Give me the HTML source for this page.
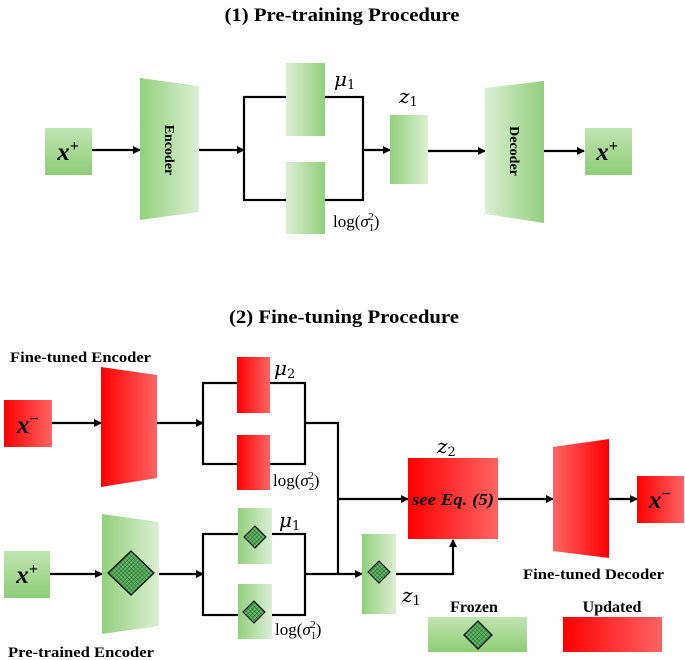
<!DOCTYPE html>
<html><head><meta charset="utf-8"><style>
html,body{margin:0;padding:0;background:#fff;}
svg{display:block;}
text{font-family:"Liberation Serif",serif;}
.m{font-family:"DejaVu Serif","Liberation Serif",serif;}
</style></head><body>
<svg width="685" height="660" viewBox="0 0 685 660" xmlns="http://www.w3.org/2000/svg">
<defs>
<linearGradient id="gD" x1="0" x2="1" y1="0" y2="0"><stop offset="0" stop-color="#92d07c"/><stop offset="1" stop-color="#dcefd4"/></linearGradient>
<linearGradient id="gL" x1="0" x2="1" y1="0" y2="0"><stop offset="0" stop-color="#dcefd4"/><stop offset="1" stop-color="#92d07c"/></linearGradient>
<linearGradient id="gV" x1="0" x2="0" y1="0" y2="1"><stop offset="0" stop-color="#c0e4b2"/><stop offset="1" stop-color="#8ecd76"/></linearGradient>
<linearGradient id="rD" x1="0" x2="1" y1="0" y2="0"><stop offset="0" stop-color="#ff0000"/><stop offset="1" stop-color="#ff6464"/></linearGradient>
<linearGradient id="rL" x1="0" x2="1" y1="0" y2="0"><stop offset="0" stop-color="#ff6464"/><stop offset="1" stop-color="#ff0000"/></linearGradient>
<pattern id="hat" width="3" height="3" patternUnits="userSpaceOnUse" patternTransform="rotate(45)">
<rect width="3" height="3" fill="#5fb864"/><path d="M0 0H3M0 0V3" stroke="#1d4a22" stroke-width="0.8"/></pattern>
<marker id="ar" markerWidth="8" markerHeight="8" refX="7" refY="4" orient="auto" markerUnits="userSpaceOnUse"><path d="M0,0 L8,4 L0,8 z" fill="#000"/></marker>
</defs>

<text x="342" y="21" font-size="19" font-weight="bold" text-anchor="middle" textLength="235" lengthAdjust="spacingAndGlyphs">(1) Pre-training Procedure</text>

<g stroke="#000" stroke-width="2.2" fill="none">
<line x1="92" y1="150" x2="140" y2="150" marker-end="url(#ar)"/>
<line x1="199" y1="150" x2="244" y2="150" marker-end="url(#ar)"/>
<rect x="244" y="97" width="119" height="103"/>
<line x1="363" y1="150" x2="390" y2="150" marker-end="url(#ar)"/>
<line x1="428" y1="151" x2="485" y2="151" marker-end="url(#ar)"/>
<line x1="544" y1="151" x2="584" y2="151" marker-end="url(#ar)"/>
</g>
<rect x="45" y="128" width="47" height="47" fill="url(#gV)"/>
<text x="68" y="160" font-size="25" font-style="italic" font-weight="bold" text-anchor="middle">x<tspan font-size="16" dy="-9">+</tspan></text>
<polygon points="140,78 199,86 199,212 140,220" fill="url(#gD)"/>
<text transform="translate(165,150) rotate(90)" font-size="14" font-weight="bold" text-anchor="middle">Encoder</text>
<rect x="286" y="63" width="39" height="73" fill="url(#gL)"/>
<rect x="286" y="162" width="39" height="72" fill="url(#gL)"/>
<text class="m" x="334" y="86" font-size="20" font-style="italic">μ<tspan font-size="13" font-style="normal" dy="3">1</tspan></text>
<text x="333" y="227" font-size="17">log(<tspan font-style="italic">σ</tspan><tspan font-size="11" dy="4">1</tspan><tspan font-size="11" dx="-6" dy="-11">2</tspan><tspan dy="7">)</tspan></text>
<rect x="390" y="115" width="38" height="69" fill="url(#gD)"/>
<text class="m" x="399" y="103" font-size="20" font-style="italic">z<tspan font-size="13" font-style="normal" dy="3">1</tspan></text>
<polygon points="485,88 544,81 544,223 485,214" fill="url(#gL)"/>
<text transform="translate(510,151) rotate(90)" font-size="14" font-weight="bold" text-anchor="middle">Decoder</text>
<rect x="585" y="128" width="47" height="47" fill="url(#gV)"/>
<text x="607" y="160" font-size="25" font-style="italic" font-weight="bold" text-anchor="middle">x<tspan font-size="16" dy="-9">+</tspan></text>

<text x="344" y="323" font-size="19" font-weight="bold" text-anchor="middle" textLength="230" lengthAdjust="spacingAndGlyphs">(2) Fine-tuning Procedure</text>

<g stroke="#000" stroke-width="2.2" fill="none">
<line x1="52" y1="423" x2="101" y2="423" marker-end="url(#ar)"/>
<line x1="157" y1="423" x2="203" y2="423" marker-end="url(#ar)"/>
<rect x="203" y="383" width="102" height="81"/>
<polyline points="305,423 338,423 338,574"/>
<line x1="338" y1="499" x2="408" y2="499" marker-end="url(#ar)"/>
<line x1="498" y1="499" x2="553" y2="499" marker-end="url(#ar)"/>
<line x1="609" y1="499" x2="637" y2="499" marker-end="url(#ar)"/>
<line x1="50" y1="574" x2="102" y2="574" marker-end="url(#ar)"/>
<line x1="159" y1="574" x2="203" y2="574" marker-end="url(#ar)"/>
<rect x="203" y="534" width="102" height="81"/>
<line x1="305" y1="574" x2="362" y2="574" marker-end="url(#ar)"/>
<polyline points="395,574 453,574 453,540" marker-end="url(#ar)"/>
</g>

<text x="10" y="362" font-size="15" font-weight="bold" textLength="141" lengthAdjust="spacingAndGlyphs">Fine-tuned Encoder</text>
<rect x="4" y="400" width="48" height="47" fill="url(#rD)"/>
<text x="28" y="433" font-size="25" font-style="italic" font-weight="bold" text-anchor="middle">x<tspan font-size="16" dy="-9">−</tspan></text>
<polygon points="101,367 157,375 157,478 101,487" fill="url(#rD)"/>
<rect x="237" y="357" width="33" height="56" fill="url(#rD)"/>
<rect x="237" y="435" width="33" height="55" fill="url(#rD)"/>
<text class="m" x="274" y="375" font-size="20" font-style="italic">μ<tspan font-size="13" font-style="normal" dy="3">2</tspan></text>
<text x="273" y="486" font-size="17">log(<tspan font-style="italic">σ</tspan><tspan font-size="11" dy="4">2</tspan><tspan font-size="11" dx="-6" dy="-11">2</tspan><tspan dy="7">)</tspan></text>
<rect x="408" y="458" width="90" height="81" fill="url(#rD)"/>
<text x="453" y="505" font-size="17" font-style="italic" font-weight="bold" text-anchor="middle" textLength="82" lengthAdjust="spacingAndGlyphs">see Eq. (5)</text>
<text class="m" x="437" y="453" font-size="20" font-style="italic">z<tspan font-size="13" font-style="normal" dy="3">2</tspan></text>
<polygon points="553,447 609,439 609,558 553,551" fill="url(#rL)"/>
<rect x="637" y="476" width="47" height="47" fill="url(#rD)"/>
<text x="660" y="508" font-size="25" font-style="italic" font-weight="bold" text-anchor="middle">x<tspan font-size="16" dy="-9">−</tspan></text>
<text x="523" y="579" font-size="15" font-weight="bold" textLength="141" lengthAdjust="spacingAndGlyphs">Fine-tuned Decoder</text>

<rect x="4" y="551" width="46" height="47" fill="url(#gV)"/>
<text x="27" y="583" font-size="25" font-style="italic" font-weight="bold" text-anchor="middle">x<tspan font-size="16" dy="-9">+</tspan></text>
<polygon points="102,514 159,522 159,626 102,634" fill="url(#gD)"/>
<polygon points="131,551 154,573 131,595 108,573" fill="url(#hat)" stroke="#000" stroke-width="1.2"/>
<rect x="238" y="508" width="34" height="56" fill="url(#gD)"/>
<polygon points="255,526 266,537 255,548 244,537" fill="url(#hat)" stroke="#000" stroke-width="1"/>
<rect x="238" y="584" width="34" height="55" fill="url(#gD)"/>
<polygon points="254,601 265,612 254,623 243,612" fill="url(#hat)" stroke="#000" stroke-width="1"/>
<text class="m" x="279" y="527" font-size="20" font-style="italic">μ<tspan font-size="13" font-style="normal" dy="3">1</tspan></text>
<text x="275" y="635" font-size="17">log(<tspan font-style="italic">σ</tspan><tspan font-size="11" dy="4">1</tspan><tspan font-size="11" dx="-6" dy="-11">2</tspan><tspan dy="7">)</tspan></text>
<rect x="362" y="534" width="34" height="80" fill="url(#gD)"/>
<polygon points="379,561 390,572 379,583 368,572" fill="url(#hat)" stroke="#000" stroke-width="1"/>
<text class="m" x="402" y="602" font-size="20" font-style="italic">z<tspan font-size="13" font-style="normal" dy="3">1</tspan></text>
<text x="474" y="612" font-size="16" font-weight="bold" text-anchor="middle">Frozen</text>
<rect x="428" y="617" width="99" height="35" fill="url(#gV)"/>
<polygon points="478,621 492,635 478,649 464,635" fill="url(#hat)" stroke="#000" stroke-width="1.2"/>
<text x="612" y="612" font-size="16" font-weight="bold" text-anchor="middle">Updated</text>
<rect x="563" y="617" width="99" height="35" fill="url(#rD)"/>
<text x="8" y="657" font-size="15" font-weight="bold" textLength="146" lengthAdjust="spacingAndGlyphs">Pre-trained Encoder</text>
</svg>
</body></html>
